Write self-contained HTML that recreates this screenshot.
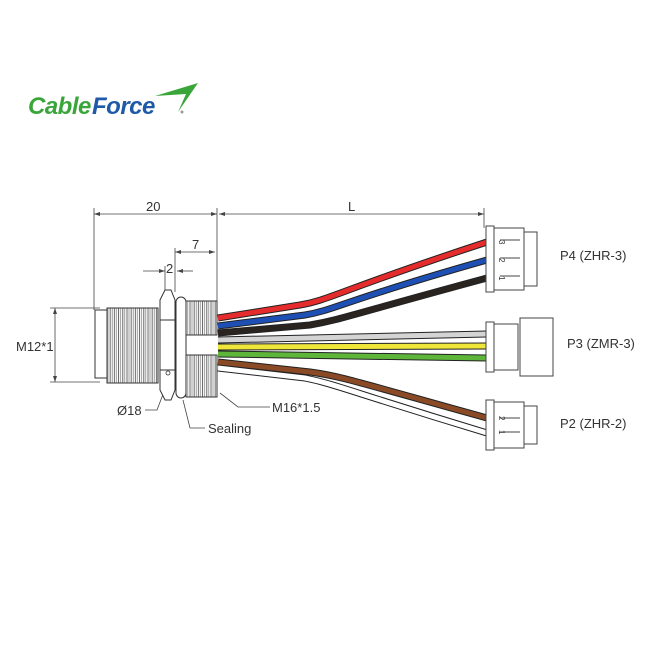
<!DOCTYPE html>
<html><head><style>
body{margin:0;background:#fff;width:650px;height:650px;overflow:hidden}
svg{display:block}
text{font-family:"Liberation Sans",sans-serif;fill:#333}
</style></head><body>
<svg width="650" height="650" viewBox="0 0 650 650">
<defs>
<pattern id="th" x="0" y="0" width="4.2" height="10" patternUnits="userSpaceOnUse"><rect width="4.2" height="10" fill="#fff"/><line x1="1" y1="0" x2="1" y2="10" stroke="#555" stroke-width="0.9"/><line x1="3" y1="0" x2="3" y2="10" stroke="#777" stroke-width="0.7"/></pattern>
</defs>
<text x="28" y="114" font-size="24" font-weight="bold" font-style="italic" style="fill:#3aa63a;letter-spacing:-0.5px">Cable</text>
<text x="92" y="114" font-size="24" font-weight="bold" font-style="italic" style="fill:#1e5aa8;letter-spacing:-0.5px">Force</text>
<path d="M155 96 L198 83 L178 112 L186 94 Z" fill="#3aa63a"/>
<circle cx="182" cy="112" r="1.5" fill="#999"/>
<g stroke="#444" stroke-width="0.8" fill="none">
<line x1="94" y1="208" x2="94" y2="310"/>
<line x1="217" y1="208" x2="217" y2="320"/>
<line x1="484" y1="208" x2="484" y2="228"/>
<line x1="94" y1="214" x2="217" y2="214"/>
<line x1="219" y1="214" x2="484" y2="214"/>
<line x1="175" y1="248" x2="175" y2="292"/>
<line x1="175" y1="252" x2="215" y2="252"/>
<line x1="143" y1="271" x2="165" y2="271"/>
<line x1="177" y1="271" x2="193" y2="271"/>
<line x1="165" y1="266" x2="165" y2="290"/>
<line x1="55" y1="308" x2="55" y2="382"/>
<line x1="50" y1="308" x2="100" y2="308"/>
<line x1="50" y1="382" x2="100" y2="382"/>
<path d="M145 410 L157 410 L170 376"/>
<path d="M205 428 L190 428 L183 400"/>
<path d="M270 407 L238 407 L220 393"/>
</g>
<g fill="#444">
<path d="M94 214 l6 -2 v4z M217 214 l-6 -2 v4z M219 214 l6 -2 v4z M484 214 l-6 -2 v4z M175 252 l6 -2 v4z M215 252 l-6 -2 v4z M165 271 l-6 -2 v4z M177 271 l6 -2 v4z M55 308 l-2 6 h4z M55 382 l-2 -6 h4z"/>
</g>
<text x="146" y="211" font-size="13">20</text>
<text x="348" y="211" font-size="13">L</text>
<text x="192" y="249" font-size="13">7</text>
<text x="166" y="273" font-size="13">2</text>
<text x="16" y="351" font-size="13">M12*1</text>
<text x="117" y="415" font-size="13">Ø18</text>
<text x="208" y="433" font-size="13">Sealing</text>
<text x="272" y="412" font-size="13">M16*1.5</text>
<text x="560" y="260" font-size="13">P4 (ZHR-3)</text>
<text x="567" y="348" font-size="13">P3 (ZMR-3)</text>
<text x="560" y="428" font-size="13">P2 (ZHR-2)</text>
<g fill="none" stroke-linecap="butt">
<g stroke="#222" stroke-width="7">
<path d="M218 318 L300 305 C330 300 340 290 487 242"/>
<path d="M218 326 L305 315 C335 310 345 300 487 260"/>
<path d="M218 333 L310 325 C340 320 350 315 487 278"/>
<path d="M218 340 L487 334"/>
<path d="M218 347 L487 346"/>
<path d="M218 354 L487 358"/>
<path d="M218 362 L310 372 C340 376 350 380 487 418"/>
<path d="M218 368 L305 378 C335 384 345 390 487 433"/>
</g>
<g stroke-width="5">
<path stroke="#e52b2b" d="M218 318 L300 305 C330 300 340 290 487 242"/>
<path stroke="#1e4fb5" d="M218 326 L305 315 C335 310 345 300 487 260"/>
<path stroke="#2a2420" d="M218 333 L310 325 C340 320 350 315 487 278"/>
<path stroke="#d4d4d4" d="M218 340 L487 334"/>
<path stroke="#efe63a" d="M218 347 L487 346"/>
<path stroke="#5db53a" d="M218 354 L487 358"/>
<path stroke="#8a4a26" d="M218 362 L310 372 C340 376 350 380 487 418"/>
<path stroke="#fff" d="M218 368 L305 378 C335 384 345 390 487 433"/>
</g>
</g>
<g stroke="#333" stroke-width="1">
<rect x="95" y="310" width="12" height="68" fill="#fff"/>
<rect x="107" y="308" width="51" height="75" fill="url(#th)"/>
<path d="M160 300 L165 290 L171 290 L175 300 L175 390 L171 400 L165 400 L160 390 Z" fill="#fff"/>
<line x1="160" y1="320" x2="175" y2="320"/><line x1="160" y1="370" x2="175" y2="370"/>
<rect x="176" y="297" width="10" height="101" rx="5" fill="#fff"/>
<rect x="186" y="301" width="31" height="34" fill="url(#th)"/>
<rect x="186" y="355" width="31" height="42" fill="url(#th)"/>
</g>
<circle cx="168" cy="373" r="2" fill="#fff" stroke="#333" stroke-width="0.8"/>
<g stroke="#444" stroke-width="1" fill="#fff">
<rect x="486" y="226" width="8" height="66"/><rect x="494" y="228" width="30" height="62"/><rect x="524" y="232" width="13" height="54"/>
<line x1="500" y1="240" x2="520" y2="240"/><line x1="500" y1="258" x2="520" y2="258"/><line x1="500" y1="276" x2="520" y2="276"/>
<rect x="486" y="322" width="8" height="50"/><rect x="494" y="324" width="24" height="46"/><rect x="520" y="318" width="33" height="58"/>
<rect x="486" y="400" width="8" height="50"/><rect x="494" y="402" width="30" height="46"/><rect x="524" y="406" width="13" height="38"/>
<line x1="500" y1="418" x2="520" y2="418"/><line x1="500" y1="432" x2="520" y2="432"/>
</g>
<g font-size="8">
<text x="498" y="247" transform="rotate(90 502 244)">3</text>
<text x="498" y="265" transform="rotate(90 502 262)">2</text>
<text x="498" y="283" transform="rotate(90 502 280)">1</text>
<text x="498" y="423" transform="rotate(90 502 420)">2</text>
<text x="498" y="437" transform="rotate(90 502 434)">1</text>
</g>
</svg>
</body></html>
